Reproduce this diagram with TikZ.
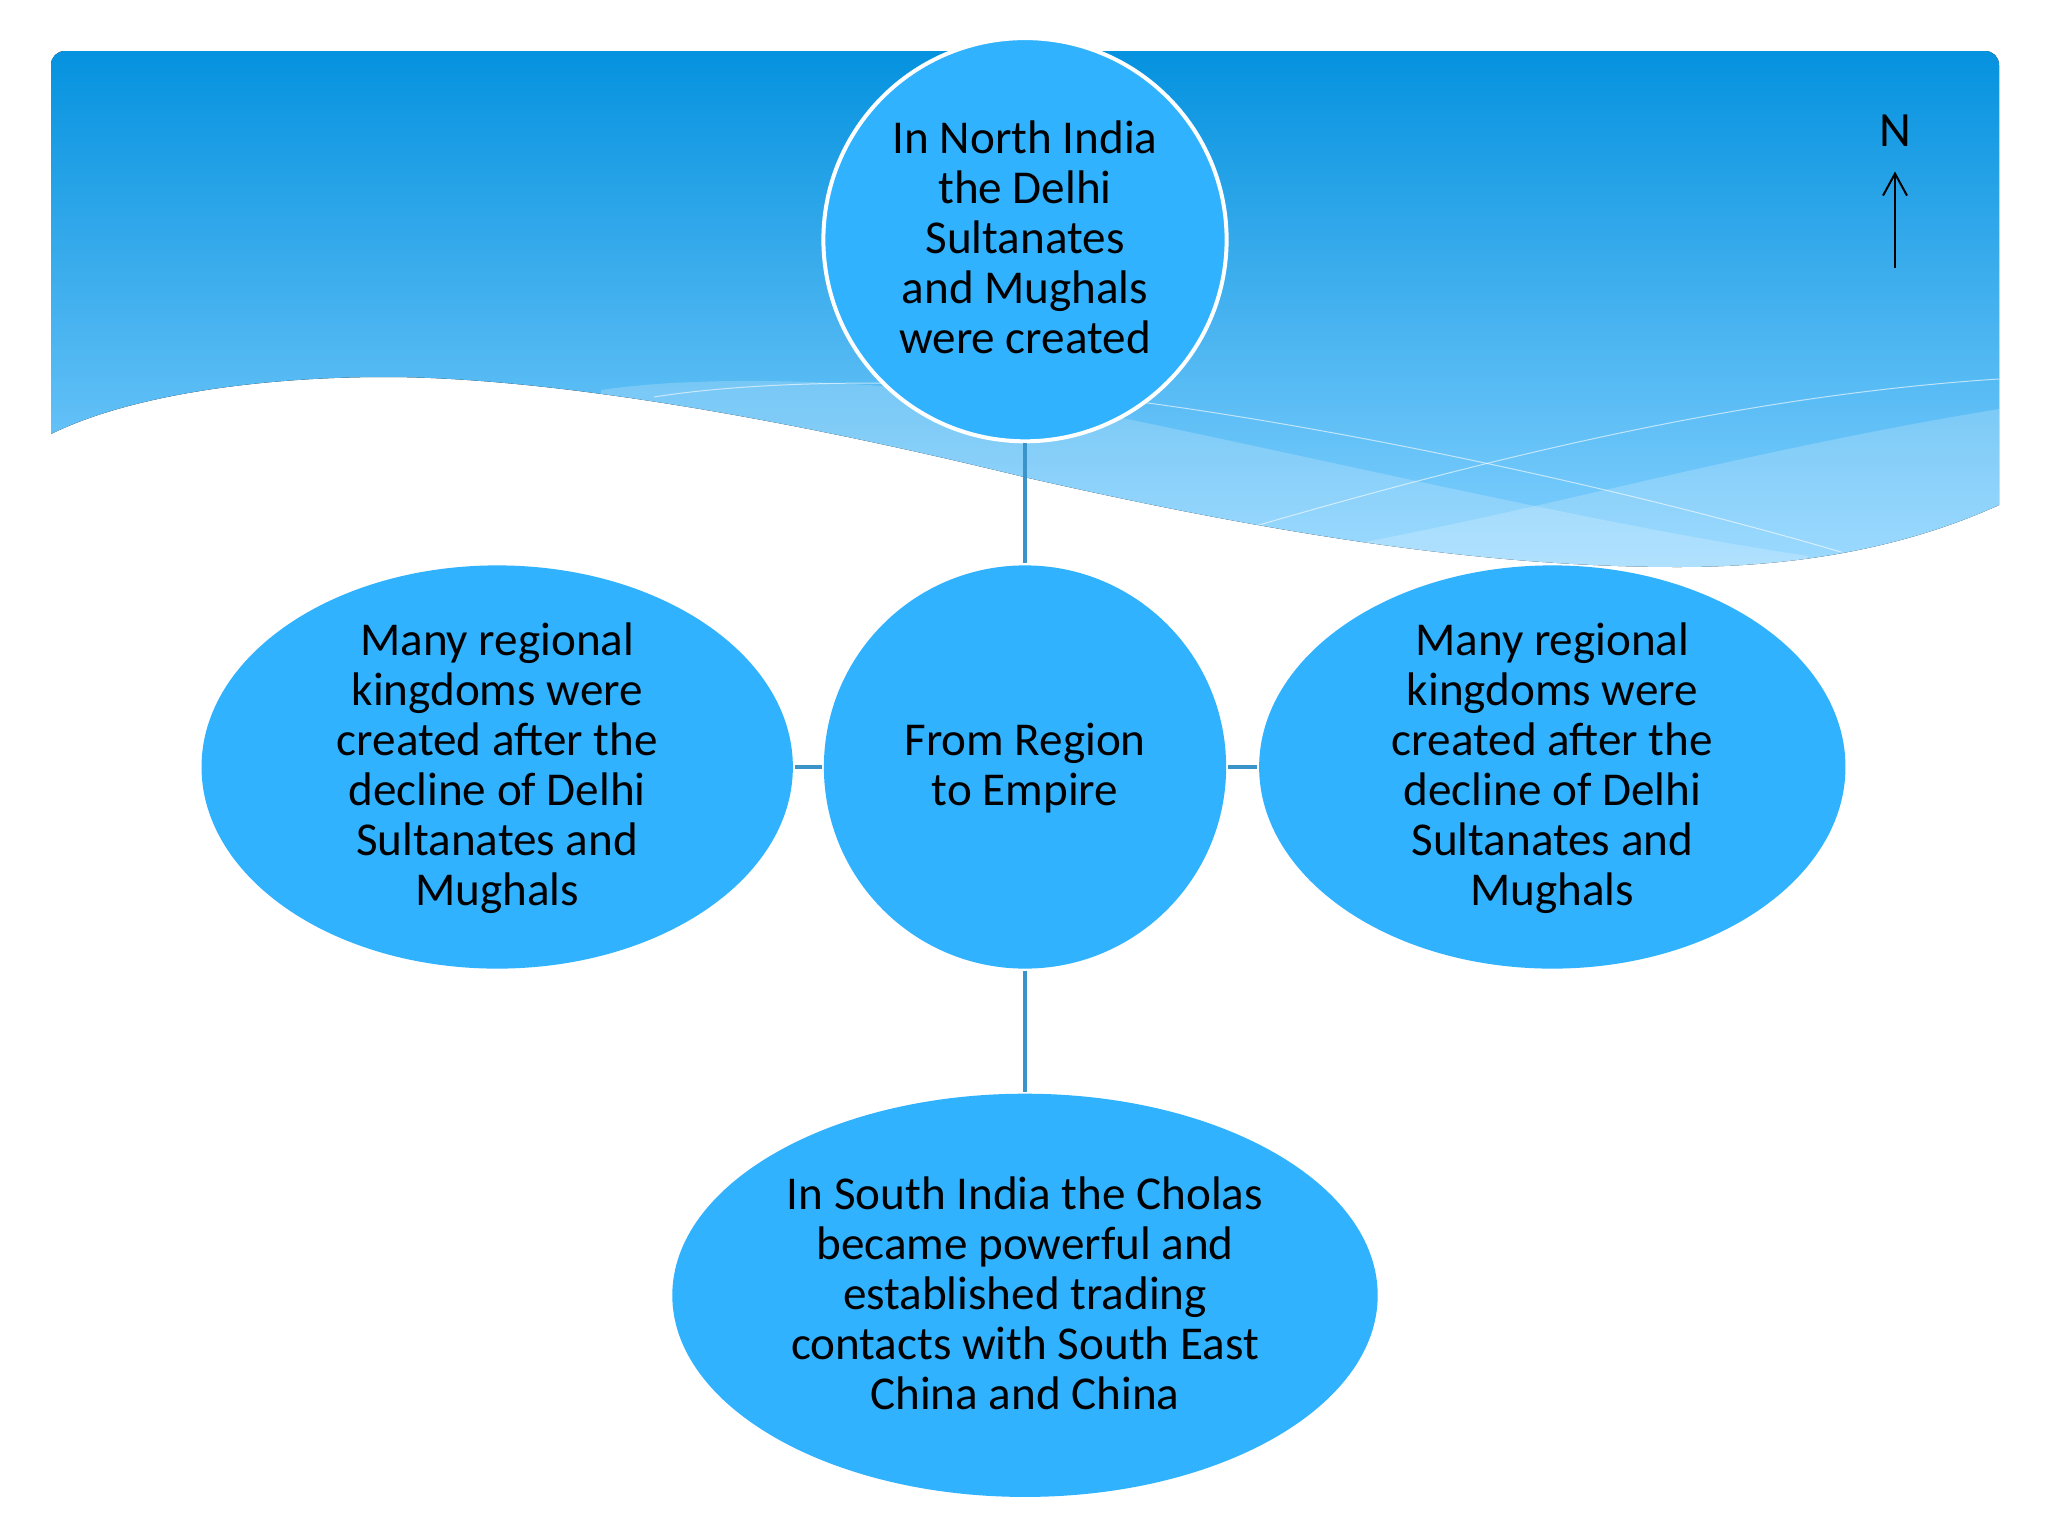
\documentclass[tikz,border=0pt]{standalone}
\usepackage{fontspec}
\setmainfont{Carlito}
\usetikzlibrary{arrows.meta,positioning,shapes.geometric}
\definecolor{bannertop}{HTML}{0592DF}
\definecolor{bannerend}{HTML}{84D1FF}
\definecolor{ovalblue}{HTML}{30B2FF}
\definecolor{linkblue}{HTML}{3A93C9}
\def\bannerpath{(51,434) -- (51,65) .. controls (51,57) and (57,51) .. (65,51) -- (1985,51) .. controls (1993,51) and (1999,57) .. (1999,65) -- (1999,505) .. controls (1900,550) and (1790,567) .. (1678,567) .. controls (1500,567) and (1300,540) .. (1024,477) .. controls (750,410) and (530,377) .. (385,377) .. controls (260,377) and (130,395) .. (51,434) -- cycle}
\begin{document}
\begin{tikzpicture}[x=0.01cm,y=-0.01cm,
    main/.style = {ellipse, fill=ovalblue, inner xsep=-0.5cm, inner ysep=-0.9cm, outer sep=0pt, align=center, minimum height=4.03cm, text depth=0.05cm, font=\fontsize{13.4}{14.23}\selectfont},
    link/.style = {draw=linkblue, line width=0.04cm, shorten <=0.02cm, shorten >=0.02cm},
    band/.style = {fill=white, fill opacity=0.2},
    thin/.style = {draw=white, draw opacity=0.6, line width=0.01cm}]
    \useasboundingbox (0,0) rectangle (2048,1536);
    \fill[top color=bannertop, bottom color=bannerend] \bannerpath;
    \begin{scope}
        \clip \bannerpath;
        \path[band] (601,390) .. controls (700,375) and (900,375) .. (1122,418) .. controls (1350,465) and (1600,525) .. (1808,556) -- (1808,600) -- (601,600) -- cycle;
        \path[band] (1364,542) .. controls (1560,505) and (1750,450) .. (1999,409) -- (1999,600) -- (1364,600) -- cycle;
    \end{scope}
    \draw[thin] (654,397) .. controls (760,380) and (960,375) .. (1148,403) .. controls (1360,432) and (1630,490) .. (1841,552);
    \draw[thin] (1259,525) .. controls (1500,455) and (1750,395) .. (1999,379);

    \node[main, minimum width=4.02cm] (mid) at (1025,767) {From Region\\to Empire};
    \node[main, minimum width=4.03cm, draw=white, line width=0.04cm] (north) [above=1.24cm of mid] {In North India\\the Delhi\\Sultanates\\and Mughals\\were created};
    \node[main, minimum width=5.91cm] (west) [left=0.31cm of mid] {Many regional\\kingdoms were\\created after the\\decline of Delhi\\Sultanates and\\Mughals};
    \node[main, minimum width=5.86cm] (east) [right=0.33cm of mid] {Many regional\\kingdoms were\\created after the\\decline of Delhi\\Sultanates and\\Mughals};
    \node[main, minimum width=7.05cm] (south) [below=1.25cm of mid] {In South India the Cholas\\became powerful and\\established trading\\contacts with South East\\China and China};

    \draw[link] (north) -- (mid);
    \draw[link] (mid) -- (south);
    \draw[link] (west) -- (mid);
    \draw[link] (mid) -- (east);

    \node[font=\fontsize{14}{14.23}\selectfont, inner sep=0pt] (N) at (1895,131) {N};
    \coordinate (tail) at (1895,268);
    \draw[-{Straight Barb[length=0.22cm,width=0.24cm]}, line width=0.02cm, shorten >=0.24cm] (tail) -- (N);
\end{tikzpicture}
\end{document}
